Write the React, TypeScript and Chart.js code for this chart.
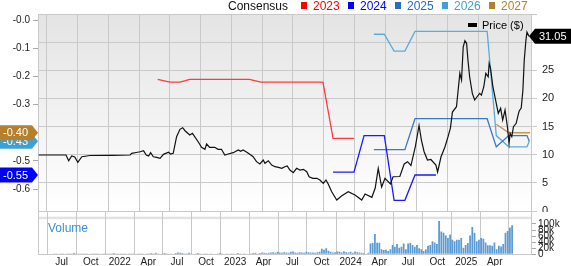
import React, { useEffect, useRef } from 'react';
import { Chart, registerables } from 'chart.js';

Chart.register(...registerables);

const FONT = 'Arial, "Liberation Sans", sans-serif';

// ---------- axis data ----------
const xStart = '2021-06-05';
const xEnd = '2025-06-06';
const xTickDates = ['2021-07-01', '2021-10-01', '2022-01-01', '2022-04-01', '2022-07-01', '2022-10-01', '2023-01-01', '2023-04-01', '2023-07-01', '2023-10-01', '2024-01-01', '2024-04-01', '2024-07-01', '2024-10-01', '2025-01-01', '2025-04-01'];
const xTickLabels = ['Jul', 'Oct', '2022', 'Apr', 'Jul', 'Oct', '2023', 'Apr', 'Jul', 'Oct', '2024', 'Apr', 'Jul', 'Oct', '2025', 'Apr'];
const epsTicks = [-0.6, -0.5, -0.4, -0.3, -0.2, -0.1, 0];
const epsMin = -0.678;
const epsMax = 0.022;
const priceGrid = [0, 5, 10, 15, 20, 25, 30, 35];
const priceLabeled = [0, 5, 10, 15, 20, 25];
const volTicks = [0, 20, 40, 60, 80, 100];
const volTickLabels = ['0', '20k', '40k', '60k', '80k', '100k'];

// ---------- price series ----------
const priceDates = ['2021-06-07', '2021-08-27', '2021-09-04', '2021-09-13', '2021-09-22', '2021-10-01', '2021-10-13', '2021-11-06', '2022-01-10', '2022-03-05', '2022-03-10', '2022-03-23', '2022-04-04', '2022-04-14', '2022-04-22', '2022-04-29', '2022-05-05', '2022-05-13', '2022-05-23', '2022-06-02', '2022-06-12', '2022-06-27', '2022-07-03', '2022-07-11', '2022-07-21', '2022-07-31', '2022-08-08', '2022-08-15', '2022-08-29', '2022-09-06', '2022-09-23', '2022-10-03', '2022-10-13', '2022-10-18', '2022-10-27', '2022-11-11', '2022-11-21', '2022-12-01', '2022-12-11', '2022-12-21', '2023-01-05', '2023-01-20', '2023-01-27', '2023-02-03', '2023-02-12', '2023-02-22', '2023-03-05', '2023-03-15', '2023-03-25', '2023-04-04', '2023-04-09', '2023-04-19', '2023-04-29', '2023-05-09', '2023-05-19', '2023-05-29', '2023-06-07', '2023-06-14', '2023-06-22', '2023-07-02', '2023-07-12', '2023-07-22', '2023-08-01', '2023-08-11', '2023-08-18', '2023-08-29', '2023-09-10', '2023-09-19', '2023-09-29', '2023-10-07', '2023-10-14', '2023-10-24', '2023-11-08', '2023-11-22', '2023-12-12', '2024-01-01', '2024-01-21', '2024-01-31', '2024-02-20', '2024-03-01', '2024-03-10', '2024-03-20', '2024-03-30', '2024-04-15', '2024-04-23', '2024-05-13', '2024-05-26', '2024-06-05', '2024-06-15', '2024-06-28', '2024-07-09', '2024-07-16', '2024-07-24', '2024-08-03', '2024-08-13', '2024-08-28', '2024-09-02', '2024-09-12', '2024-09-24', '2024-10-03', '2024-10-10', '2024-10-16', '2024-10-28', '2024-11-02', '2024-11-07', '2024-11-12', '2024-11-17', '2024-11-22', '2024-11-27', '2024-12-01', '2024-12-06', '2024-12-14', '2024-12-21', '2024-12-28', '2025-01-05', '2025-01-10', '2025-01-17', '2025-01-23', '2025-01-30', '2025-02-02', '2025-02-06', '2025-02-13', '2025-02-23', '2025-03-01', '2025-03-08', '2025-03-14', '2025-03-21', '2025-03-28', '2025-04-02', '2025-04-05', '2025-04-10', '2025-04-15', '2025-04-23', '2025-04-30', '2025-05-02', '2025-05-08', '2025-05-13', '2025-05-17', '2025-05-22', '2025-05-25', '2025-05-30', '2025-06-01'];
const priceValues = [9.95, 9.95, 8.93, 9.77, 9.59, 8.65, 9.64, 9.86, 9.89, 9.95, 10.25, 10.39, 10.53, 10.71, 9.95, 9.77, 10.36, 9.64, 9.54, 9.36, 10.07, 10.43, 10.12, 10.25, 13.2, 14.51, 14.8, 14.26, 13.5, 13.8, 12.31, 11.31, 10.96, 11.9, 11.31, 11.31, 10.96, 10.96, 9.95, 10.12, 10.36, 10.83, 10.6, 10.83, 10.53, 10.12, 9.64, 8.76, 8.35, 9.06, 8.47, 8.93, 8.17, 7.87, 7.76, 7.58, 7.87, 7.99, 7.28, 6.8, 7.58, 7.28, 7.41, 6.98, 6.09, 5.81, 5.81, 5.51, 4.92, 5.51, 4.74, 3.43, 1.95, 2.66, 3.43, 2.84, 1.95, 3.02, 2.43, 4.09, 7.58, 4.26, 5.81, 4.8, 6.09, 6.13, 8.35, 8.76, 8.08, 11.42, 15.19, 12.61, 10.53, 9.06, 9.15, 8.17, 6.93, 9.59, 11.42, 13.2, 14.74, 17.58, 18.53, 21.49, 24.46, 23.27, 29.18, 30.25, 29.79, 26.82, 23.85, 20.9, 19.72, 20.3, 20.9, 20.6, 22.08, 24.46, 23.85, 26.23, 25.35, 22.08, 19.13, 17.35, 18.24, 16.16, 17.94, 14.97, 12.02, 13.8, 13.2, 14.97, 15.58, 17.35, 17.76, 18.29, 21.49, 26.82, 30.37, 31.79, 31.17, 31.05];

// ---------- consensus EPS series ----------
const eps2023Dates = ['2022-05-26', '2022-07-01', '2022-07-31', '2022-08-29', '2023-02-22', '2023-03-28', '2023-09-28', '2023-10-28', '2023-12-29'];
const eps2023Values = [-0.21, -0.22, -0.22, -0.21, -0.21, -0.22, -0.22, -0.42, -0.42];
const eps2024Dates = ['2023-10-28', '2023-12-29', '2024-01-28', '2024-03-28', '2024-04-26', '2024-05-28', '2024-06-27', '2024-08-28'];
const eps2024Values = [-0.54, -0.54, -0.41, -0.41, -0.64, -0.64, -0.55, -0.55];
const eps2025Dates = ['2024-02-26', '2024-05-28', '2024-06-27', '2025-01-27', '2025-02-23', '2025-04-01', '2025-05-25', '2025-06-01'];
const eps2025Values = [-0.46, -0.46, -0.35, -0.35, -0.45, -0.41, -0.41, -0.43];
const eps2026Dates = ['2024-02-26', '2024-03-28', '2024-04-26', '2024-05-28', '2024-06-27', '2025-01-27', '2025-02-23', '2025-04-01', '2025-05-25', '2025-06-01'];
const eps2026Values = [-0.05, -0.05, -0.11, -0.11, -0.04, -0.04, -0.41, -0.45, -0.45, -0.43];
const eps2027Dates = ['2025-02-23', '2025-04-01', '2025-06-03'];
const eps2027Values = [-0.37, -0.40, -0.40];

// ---------- weekly volume (thousands) ----------
const volStartDate = '2021-06-07';
const volValues = [
  1, 1, 2, 1, 1, 2, 1, 1, 1, 4, 1, 1, 3, 1, 1, 1, 2, 1, 1, 1, 1, 2, 1, 1, 1, 1, 1, 4, 1, 1, 1, 1, 1, 2, 1, 1, 1, 2, 1, 1, 1, 2, 1,
  3, 4, 3, 5, 3, 2, 3, 4, 3, 2, 3, 2, 4, 6, 5, 4, 3, 3, 5, 3, 2, 3, 4, 3, 2, 3, 3,
  2, 3, 2, 2, 3, 4, 3, 2, 3, 2, 3, 3, 2, 4, 3, 2, 3, 2, 2, 3, 4, 5, 3, 4, 6, 5, 4, 5, 6, 7, 5, 8, 6, 5, 7, 6, 5, 8, 9, 6, 5, 7, 6, 5, 8, 7, 6, 6, 5, 7, 8,
  18, 15, 20, 12, 8, 6, 7, 9, 8, 6, 10, 7, 6, 8, 5, 9, 7, 6, 5, 4,
  2, 5, 36, 37, 67, 38, 38, 17, 14, 15, 11, 17, 31, 25, 34, 22, 25, 36, 17, 36, 37, 31, 25, 31, 20, 17, 11, 17, 28, 31, 43, 39, 34, 110, 75, 71, 62, 54, 65, 48, 43, 48, 48, 54, 22, 31, 37, 62, 90, 71, 43, 48, 54, 51, 39, 30, 30, 28, 39, 17, 28, 26, 34, 71, 77, 88, 96,
];

// ---------- styling ----------
const seriesStyle = [
  { label: '2023', color: '#ff0000', line: '#ff3b3b' },
  { label: '2024', color: '#0000ff', line: '#1a1aff' },
  { label: '2025', color: '#2a6abf', line: '#3a78c8' },
  { label: '2026', color: '#3fa0d6', line: '#5aadda' },
  { label: '2027', color: '#b5802c', line: '#c8944e' },
];
const GRID = '#c9c9c9';

const t = (s: string) => Date.parse(s + 'T00:00:00Z');
const DAY = 86400000;

const xTickValues = xTickDates.map(t);
const labelForX = (v: number) => {
  const i = xTickValues.indexOf(v);
  return i >= 0 ? xTickLabels[i] : '';
};

const zeroPad = (s: any) => {
  s.paddingTop = 0;
  s.paddingBottom = 0;
  s.paddingLeft = 0;
  s.paddingRight = 0;
};

const buildX = (showLabels: boolean, heightOverride: number) => ({
  type: 'linear' as const,
  min: t(xStart),
  max: t(xEnd),
  afterBuildTicks: (s: any) => {
    s.ticks = xTickValues.map((v) => ({ value: v }));
  },
  afterFit: (s: any) => {
    s.height = heightOverride;
    zeroPad(s);
  },
  grid: { color: GRID, lineWidth: 1, drawTicks: false },
  border: { display: true, color: GRID },
  ticks: {
    display: showLabels,
    autoSkip: false,
    maxRotation: 0,
    padding: 2,
    color: '#222',
    font: { size: 10, family: FONT },
    callback: (v: any) => labelForX(Number(v)),
  },
});

function drawLeftTag(ctx: CanvasRenderingContext2D, y: number, color: string, text: string) {
  ctx.beginPath();
  ctx.moveTo(0, y - 7.5);
  ctx.lineTo(32, y - 7.5);
  ctx.lineTo(38, y);
  ctx.lineTo(32, y + 7.5);
  ctx.lineTo(0, y + 7.5);
  ctx.closePath();
  ctx.fillStyle = color;
  ctx.fill();
  ctx.fillStyle = '#ffffff';
  ctx.font = `11px ${FONT}`;
  ctx.textAlign = 'left';
  ctx.textBaseline = 'middle';
  ctx.fillText(text, 3, y + 0.5);
}

export default function App() {
  const mainRef = useRef<HTMLCanvasElement>(null);
  const volRef = useRef<HTMLCanvasElement>(null);

  useEffect(() => {
    const epsSets = [
      [eps2023Dates, eps2023Values],
      [eps2024Dates, eps2024Values],
      [eps2025Dates, eps2025Values],
      [eps2026Dates, eps2026Values],
      [eps2027Dates, eps2027Values],
    ] as [string[], number[]][];

    const bgPlugin = {
      id: 'bg',
      beforeDraw(chart: any) {
        const { ctx, chartArea } = chart;
        const g = ctx.createLinearGradient(0, chartArea.top, 0, chartArea.bottom);
        g.addColorStop(0, '#e4e4e4');
        g.addColorStop(1, '#ffffff');
        ctx.save();
        ctx.fillStyle = g;
        ctx.fillRect(chartArea.left, chartArea.top, chartArea.right - chartArea.left, chartArea.bottom - chartArea.top);
        ctx.restore();
      },
    };

    const overlayPlugin = {
      id: 'overlay',
      afterDraw(chart: any) {
        const ctx: CanvasRenderingContext2D = chart.ctx;
        const yE = chart.scales.yEps;
        const yP = chart.scales.yPrice;
        const area = chart.chartArea;
        ctx.save();
        // consensus legend
        ctx.font = `12px ${FONT}`;
        ctx.textAlign = 'left';
        ctx.textBaseline = 'alphabetic';
        ctx.fillStyle = '#111';
        ctx.fillText('Consensus', 228, 9.5);
        const legendX = [301, 348, 395, 442, 489];
        seriesStyle.forEach((s, i) => {
          ctx.fillStyle = s.color;
          ctx.fillRect(legendX[i], 2, 6, 7);
          ctx.fillText(s.label, legendX[i] + 12, 9.5);
        });
        // price legend
        ctx.fillStyle = '#000';
        ctx.fillRect(468, 23, 9, 4);
        ctx.font = `11px ${FONT}`;
        ctx.textBaseline = 'middle';
        ctx.fillText('Price ($)', 482, 25.5);
        // left EPS tags (2026, 2027, 2024)
        const tagOrder = [3, 4, 1];
        tagOrder.forEach((si) => {
          const vals = epsSets[si][1];
          const last = vals[vals.length - 1];
          drawLeftTag(ctx, yE.getPixelForValue(last), seriesStyle[si].color, last.toFixed(2));
        });
        // price tag
        const lastP = priceValues[priceValues.length - 1];
        const py = yP.getPixelForValue(lastP);
        const tip = area.right - 2;
        ctx.beginPath();
        ctx.moveTo(tip, py);
        ctx.lineTo(tip + 6, py - 7.5);
        ctx.lineTo(571, py - 7.5);
        ctx.lineTo(571, py + 7.5);
        ctx.lineTo(tip + 6, py + 7.5);
        ctx.closePath();
        ctx.fillStyle = '#000';
        ctx.fill();
        ctx.fillStyle = '#fff';
        ctx.font = `11px ${FONT}`;
        ctx.textAlign = 'left';
        ctx.textBaseline = 'middle';
        ctx.fillText(lastP.toFixed(2), tip + 10, py + 0.5);
        ctx.restore();
      },
    };

    const datasets: any[] = [];
    epsSets.forEach(([d, v], i) => {
      datasets.push({
        label: seriesStyle[i].label,
        data: d.map((s, j) => ({ x: t(s), y: v[j] })),
        yAxisID: 'yEps',
        borderColor: seriesStyle[i].line,
        borderWidth: 1.3,
        pointRadius: 0,
        tension: 0,
        order: 2,
      });
    });
    datasets.push({
      label: 'Price',
      data: priceDates.map((s, j) => ({ x: t(s), y: priceValues[j] })),
      yAxisID: 'yPrice',
      borderColor: '#111',
      borderWidth: 1.2,
      pointRadius: 0,
      tension: 0,
      order: 1,
    });

    const main = new Chart(mainRef.current!, {
      type: 'line',
      data: { datasets },
      options: {
        responsive: false,
        animation: false,
        events: [],
        layout: { padding: { top: 14, bottom: 1, left: 0, right: 0 } },
        plugins: { legend: { display: false }, tooltip: { enabled: false } },
        scales: {
          x: buildX(false, 0),
          yEps: {
            type: 'linear',
            position: 'left',
            min: epsMin,
            max: epsMax,
            afterBuildTicks: (s: any) => {
              s.ticks = epsTicks.map((v) => ({ value: v }));
            },
            afterFit: (s: any) => {
              s.width = 38;
              zeroPad(s);
            },
            grid: { drawOnChartArea: false, drawTicks: true, tickLength: 5, color: '#aaa' },
            border: { display: true, color: GRID },
            ticks: {
              autoSkip: false,
              padding: 3,
              color: '#222',
              font: { size: 10, family: FONT },
              callback: (v: any) => (Number(v) <= 0 ? '-' : '') + Math.abs(Number(v)).toFixed(1),
            },
          },
          yPrice: {
            type: 'linear',
            position: 'right',
            min: 0,
            max: 35,
            afterBuildTicks: (s: any) => {
              s.ticks = priceGrid.map((v) => ({ value: v }));
            },
            afterFit: (s: any) => {
              s.width = 40;
              zeroPad(s);
            },
            grid: { color: GRID, drawTicks: true, tickLength: 6 },
            border: { display: true, color: GRID },
            ticks: {
              autoSkip: false,
              padding: 5,
              color: '#222',
              font: { size: 11, family: FONT },
              callback: (v: any) => (priceLabeled.includes(Number(v)) ? String(v) : ''),
            },
          },
        },
      },
      plugins: [bgPlugin, overlayPlugin],
    } as any);

    const volBgPlugin = {
      id: 'volbg',
      beforeDraw(chart: any) {
        const { ctx, chartArea } = chart;
        ctx.save();
        ctx.fillStyle = '#ffffff';
        ctx.fillRect(chartArea.left, chartArea.top, chartArea.right - chartArea.left, chartArea.bottom - chartArea.top);
        ctx.fillStyle = '#e2e2e2';
        ctx.fillRect(chartArea.left, 5.7, chartArea.right - chartArea.left, 2.4);
        ctx.restore();
      },
      afterDraw(chart: any) {
        const ctx: CanvasRenderingContext2D = chart.ctx;
        ctx.save();
        ctx.fillStyle = '#3d8fd6';
        ctx.font = `12px ${FONT}`;
        ctx.textAlign = 'left';
        ctx.textBaseline = 'middle';
        ctx.fillText('Volume', 48, 18);
        ctx.restore();
      },
    };

    const vol = new Chart(volRef.current!, {
      type: 'bar',
      data: {
        datasets: [
          {
            label: 'Volume',
            data: volValues.map((v, i) => ({ x: t(volStartDate) + i * 7 * DAY, y: v })),
            yAxisID: 'yVol',
            backgroundColor: '#5b9bd5',
            borderWidth: 0,
            barPercentage: 0.8,
            categoryPercentage: 1,
          },
        ],
      },
      options: {
        responsive: false,
        animation: false,
        events: [],
        layout: { padding: { top: 1, bottom: 0, left: 0, right: 0 } },
        plugins: { legend: { display: false }, tooltip: { enabled: false } },
        scales: {
          x: buildX(true, 11.7),
          yL: {
            type: 'linear',
            position: 'left',
            min: 0,
            max: 1,
            afterFit: (s: any) => {
              s.width = 38;
              zeroPad(s);
            },
            grid: { display: false },
            border: { display: true, color: GRID },
            ticks: { display: false },
          },
          yVol: {
            type: 'linear',
            position: 'right',
            min: 0,
            max: 139.5,
            afterBuildTicks: (s: any) => {
              s.ticks = volTicks.map((v) => ({ value: v }));
            },
            afterFit: (s: any) => {
              s.width = 40;
              zeroPad(s);
            },
            grid: { drawOnChartArea: false, drawTicks: true, tickLength: 5, color: '#aaa' },
            border: { display: true, color: GRID },
            ticks: {
              autoSkip: false,
              padding: 2,
              color: '#222',
              font: { size: 10, family: FONT },
              callback: (v: any) => {
                const i = volTicks.indexOf(Number(v));
                return i >= 0 ? volTickLabels[i] : '';
              },
            },
          },
        },
      },
      plugins: [volBgPlugin],
    } as any);

    return () => {
      main.destroy();
      vol.destroy();
    };
  }, []);

  return (
    <div style={{ position: 'fixed', left: 0, top: 0, width: 571, height: 266, background: '#ffffff' }}>
      <canvas ref={mainRef} width={571} height={212} style={{ position: 'absolute', left: 0, top: 0, width: 571, height: 212 }} />
      <canvas ref={volRef} width={571} height={55} style={{ position: 'absolute', left: 0, top: 211, width: 571, height: 55 }} />
    </div>
  );
}
